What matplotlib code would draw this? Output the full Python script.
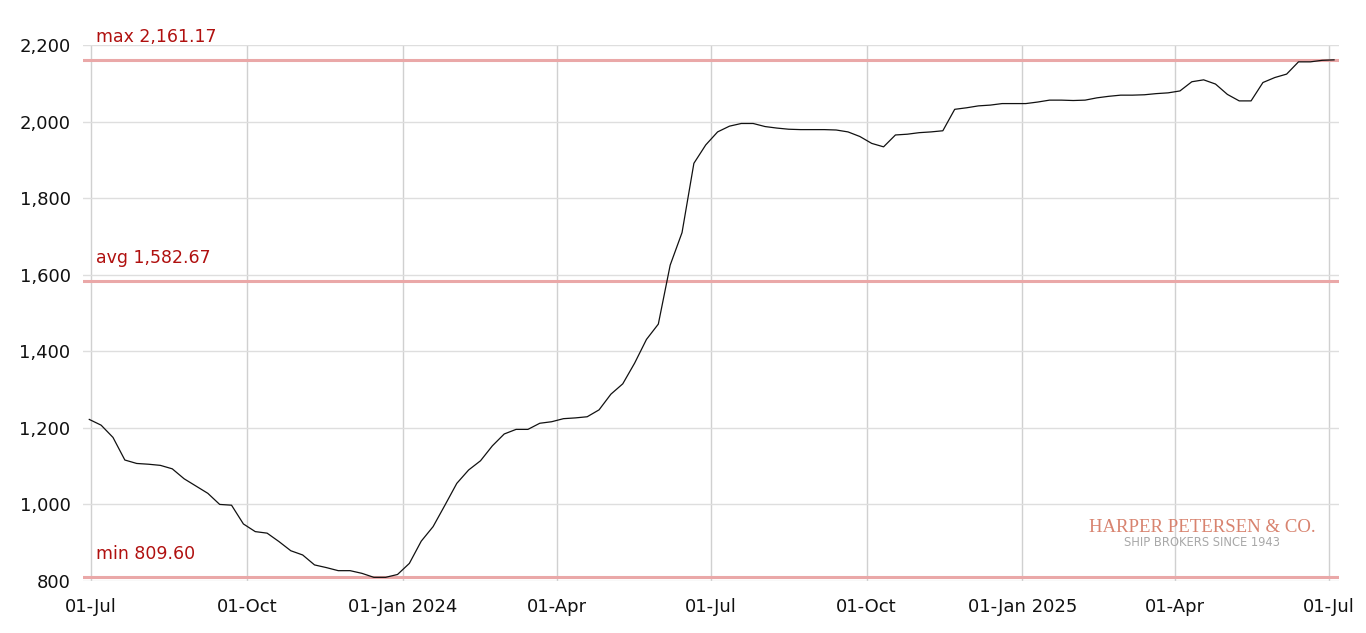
import matplotlib
matplotlib.use("Agg")
import matplotlib.pyplot as plt
import matplotlib.ticker as mticker
import pandas as pd

# ---- data (weekly, Fridays) ----
start_date = "2023-06-30"
values = [
    1222, 1207, 1175, 1116, 1107, 1105, 1102, 1093, 1067, 1048,
    1029, 1000, 998, 949, 929, 925, 903, 879, 868, 842,
    835, 827, 827, 820, 809.6, 809.6, 817, 846, 904, 942,
    998, 1055, 1090, 1114, 1153, 1184, 1196, 1196, 1212, 1216,
    1224, 1226, 1229, 1247, 1288, 1315, 1369, 1431, 1471, 1625,
    1710, 1891, 1939, 1973, 1988, 1995, 1995, 1987, 1983, 1980,
    1979, 1979, 1979, 1978, 1973, 1961, 1943, 1934, 1965, 1967,
    1971, 1973, 1976, 2032, 2036, 2041, 2043, 2047, 2047, 2047,
    2051, 2056, 2056, 2055, 2056, 2062, 2066, 2069, 2069, 2070,
    2073, 2075, 2080, 2104, 2109, 2098, 2071, 2054, 2054, 2102,
    2115, 2124, 2156, 2156, 2160, 2161.17,
]
stat_names = ["max", "avg", "min"]
stat_values = [2161.17, 1582.67, 809.60]
y_ticks = [800, 1000, 1200, 1400, 1600, 1800, 2000, 2200]
x_tick_dates = ["2023-07-01", "2023-10-01", "2024-01-01", "2024-04-01",
                "2024-07-01", "2024-10-01", "2025-01-01", "2025-04-01",
                "2025-07-01"]
x_tick_labels = ["01-Jul", "01-Oct", "01-Jan 2024", "01-Apr", "01-Jul",
                 "01-Oct", "01-Jan 2025", "01-Apr", "01-Jul"]

dates = pd.date_range(start_date, periods=len(values), freq="7D")

plt.rcParams['font.family'] = ['DejaVu Sans']

W, H = 1366, 633
fig = plt.figure(figsize=(W / 100, H / 100), dpi=100)
ax = fig.add_axes([83 / W, (H - 581) / H, (1339 - 83) / W, (581 - 45) / H])

ax.set_xlim(pd.Timestamp("2023-06-26 07:00"), pd.Timestamp("2025-07-06 22:00"))
ax.set_ylim(800, 2200)

for s in ax.spines.values():
    s.set_visible(False)

ax.set_yticks(y_ticks)
ax.yaxis.set_major_formatter(mticker.FuncFormatter(lambda v, p: f"{v:,.0f}"))
ax.set_xticks(pd.to_datetime(x_tick_dates))
ax.set_xticklabels(x_tick_labels)
ax.tick_params(axis='both', length=0, labelsize=13, colors='#111111')
ax.tick_params(axis='y', pad=9)
ax.tick_params(axis='x', pad=12)

ax.grid(axis='y', color='#dedede', linewidth=1.0)
ax.grid(axis='x', color='#d0d0d0', linewidth=1.0)
ax.set_axisbelow(True)

for name, v in zip(stat_names, stat_values):
    ax.axhline(v, color='#eaa8a8', linewidth=2.2, zorder=2)
    ax.annotate(f"{name} {v:,.2f}", xy=(pd.Timestamp("2023-07-04"), v),
                xytext=(0, 10), textcoords='offset points',
                color='#b0100f', fontsize=12.5, ha='left', va='bottom',
                annotation_clip=False)

ax.plot(dates, values, color='#111111', linewidth=0.9, zorder=3)

# watermark
fig.text(1202 / W, 1 - 527 / H, "HARPER PETERSEN & CO.", fontsize=13.5,
         family='Liberation Serif', color='#d8836f', ha='center', va='center')
fig.text(1202 / W, 1 - 542 / H, "SHIP BROKERS SINCE 1943", fontsize=8.3,
         family='DejaVu Sans', color='#a8a8a8', ha='center', va='center')

fig.savefig("out.png", dpi=100)
